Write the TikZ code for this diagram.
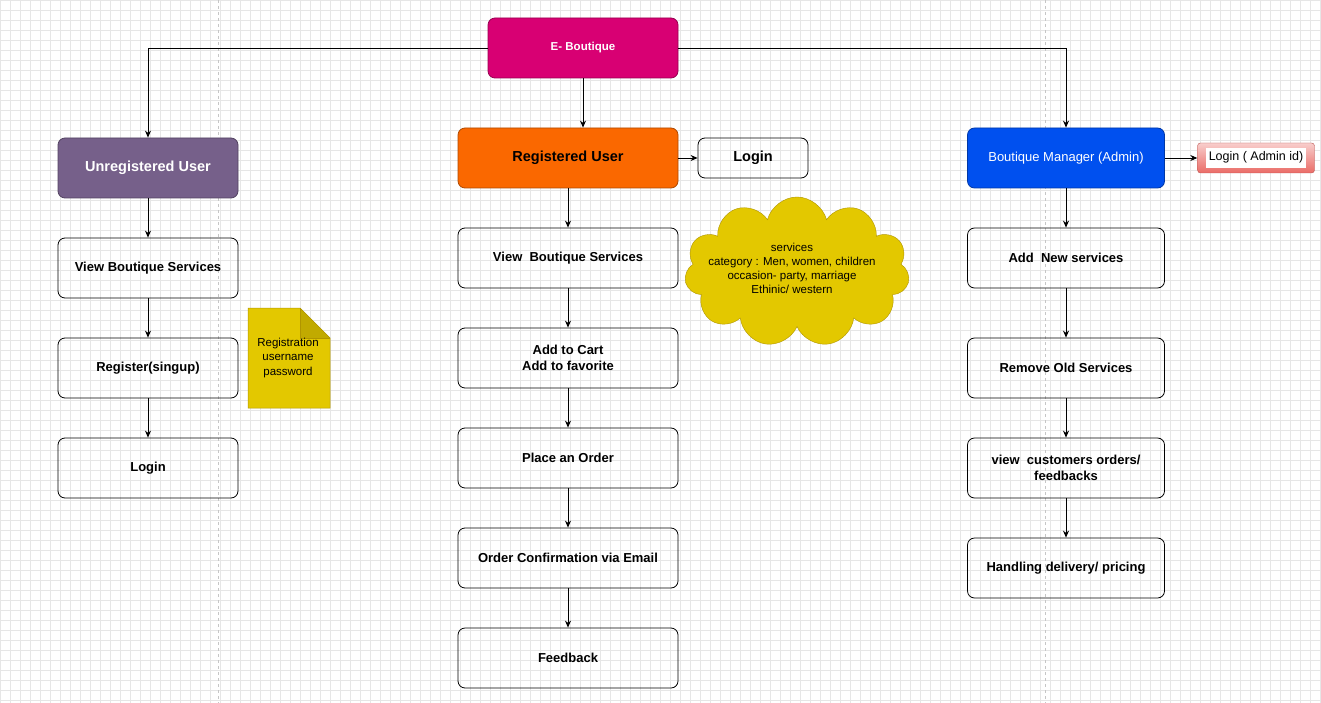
\documentclass[tikz,border=0pt]{standalone}
\usepackage{fontspec}
\setmainfont{Liberation Sans}
\usetikzlibrary{shapes.symbols,arrows.meta}
\definecolor{gridc}{HTML}{E6E6E6}
\definecolor{eb}{HTML}{D80073}
\definecolor{purp}{HTML}{76608A}
\definecolor{orng}{HTML}{FA6800}
\definecolor{blu}{HTML}{0050EF}
\definecolor{yel}{HTML}{E3C800}
\definecolor{yeld}{HTML}{B09500}
\definecolor{pinkl}{HTML}{F8CECC}
\definecolor{pinkd}{HTML}{EA6B66}
\begin{document}
\begin{tikzpicture}[x=1pt,y=-1pt,
  box/.style={draw,rounded corners=7pt,line width=0.8pt,align=center,font=\fontsize{13}{16}\selectfont\bfseries,inner sep=0pt},
  arr/.style={-{Stealth[length=7pt,width=6pt]},line width=0.8pt}]
\useasboundingbox (0,0) rectangle (1321,703);
\fill[white] (0,0) rectangle (1321,703);
\foreach \i in {0,10,...,1320} \draw[gridc,line width=0.4pt] (\i,0)--(\i,703);
\foreach \j in {0,10,...,700} \draw[gridc,line width=0.4pt] (0,\j)--(1321,\j);
\draw[gray!45,dashed,line width=0.6pt] (218,0)--(218,703) (1045,0)--(1045,703);
% nodes
\node[box,draw=eb!70!black,fill=eb,text=white,minimum width=190,minimum height=60,font=\fontsize{11.5}{14}\selectfont\bfseries] (eb) at (583,48) {E- Boutique};
\node[box,draw=purp!70!black,fill=purp,text=white,minimum width=180,minimum height=60,font=\fontsize{14.5}{17}\selectfont\bfseries] (ur) at (148,168) {Unregistered User};
\node[box,minimum width=180,minimum height=60] (v1) at (148,268) {View Boutique Services};
\node[box,minimum width=180,minimum height=60] (rg) at (148,368) {Register(singup)};
\node[box,minimum width=180,minimum height=60] (l1) at (148,468) {Login};
\fill[yel] (248,308) -- (300,308) -- (330,338) -- (330,408) -- (248,408) -- cycle;
\draw[yeld,fill=yel!85!black] (300,308) -- (300,338) -- (330,338);
\draw[yeld,line width=0.5pt] (248,308) -- (300,308) -- (330,338) -- (330,408) -- (248,408) -- cycle;
\node[align=center,font=\fontsize{11.5}{14.5}\selectfont] (nt) at (288,358) {Registration\\ username\\ password};
\node[box,draw=orng!70!black,fill=orng,minimum width=220,minimum height=60,font=\fontsize{14.5}{17}\selectfont\bfseries] (ru) at (568,158) {Registered User};
\node[box,minimum width=110,minimum height=40,font=\fontsize{14.5}{17}\selectfont\bfseries] (l2) at (753,158) {Login};
\node[box,minimum width=220,minimum height=60] (v2) at (568,258) {View\ \ Boutique Services};
\node[box,minimum width=220,minimum height=60] (ac) at (568,358) {Add to Cart\\Add to favorite};
\node[box,minimum width=220,minimum height=60] (po) at (568,458) {Place an Order};
\node[box,minimum width=220,minimum height=60] (oc) at (568,558) {Order Confirmation via Email};
\node[box,minimum width=220,minimum height=60] (fb) at (568,658) {Feedback};
\node[cloud,cloud puffs=11,aspect=1.5,draw=yeld,fill=yel,minimum width=225,minimum height=150,inner sep=0pt] (cl) at (797,272) {};
\node[align=center,font=\fontsize{11.5}{14}\selectfont] (ct) at (792,268) {services\\ category : Men, women, children\\ occasion- party, marriage\\ Ethinic/ western};
\node[box,draw=blu!70!black,fill=blu,text=white,minimum width=197,minimum height=60,font=\fontsize{13}{16}\selectfont] (bm) at (1066,158) {Boutique Manager (Admin)};
\node[draw=pinkd!80!black,rounded corners=3pt,top color=pinkl,bottom color=pinkd,minimum width=117,minimum height=30,inner sep=0pt] (la) at (1256,158) {\colorbox{white}{\fontsize{12.5}{14}\selectfont\strut Login ( Admin id)}};
\node[box,minimum width=197,minimum height=60] (an) at (1066,258) {Add\ \ New services};
\node[box,minimum width=197,minimum height=60] (ro) at (1066,368) {Remove Old Services};
\node[box,minimum width=197,minimum height=60] (vc) at (1066,468) {view\ \ customers orders/\\feedbacks};
\node[box,minimum width=197,minimum height=60] (hd) at (1066,568) {Handling delivery/ pricing};
% edges
\draw[arr] (eb.west) -| (ur.north);
\draw[arr] (eb.east) -| (bm.north);
\draw[arr] (eb.south) -- (ru.north -| eb.south);
\draw[arr] (ur) -- (v1);
\draw[arr] (v1) -- (rg);
\draw[arr] (rg) -- (l1);
\draw[arr] (ru) -- (l2);
\draw[arr] (ru) -- (v2);
\draw[arr] (v2) -- (ac);
\draw[arr] (ac) -- (po);
\draw[arr] (po) -- (oc);
\draw[arr] (oc) -- (fb);
\draw[arr] (bm) -- (la);
\draw[arr] (bm) -- (an);
\draw[arr] (an) -- (ro);
\draw[arr] (ro) -- (vc);
\draw[arr] (vc) -- (hd);
\end{tikzpicture}
\end{document}
